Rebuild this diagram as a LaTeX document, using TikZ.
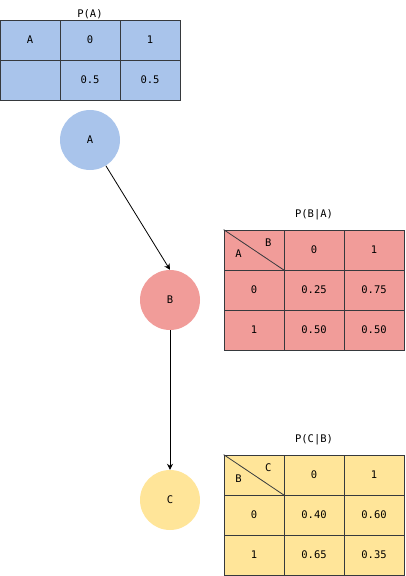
\documentclass[tikz,border=0pt]{standalone}
\usepackage{fontspec}
\setmonofont{DejaVu Sans Mono}
\usetikzlibrary{arrows.meta,positioning}
\definecolor{pablue}{HTML}{A9C4EB}
\definecolor{pbred}{HTML}{F19C99}
\definecolor{pcyellow}{HTML}{FFE599}
\definecolor{edgegray}{HTML}{36393D}
\tikzset{
  cell/.style={draw=edgegray, line width=0.8pt, minimum width=60pt, minimum height=40pt,
    inner sep=0pt, font=\ttfamily\fontsize{10.5}{12}\selectfont},
  var/.style={circle, minimum size=60pt, inner sep=0pt, font=\ttfamily\fontsize{10.5}{12}\selectfont},
  title/.style={inner sep=0pt, font=\ttfamily\fontsize{10.5}{12}\selectfont},
  corner/.style={inner sep=0pt, font=\ttfamily\fontsize{10.5}{12}\selectfont},
  link/.style={line width=0.8pt, -{Stealth[length=6pt,width=6pt]}}
}

\begin{document}
\begin{tikzpicture}[x=1pt,y=-1pt]
  \useasboundingbox (0,0) rectangle (405,576);

  % P(A)
  \node[title] (pa) at (90,14) {P(A)};
  \foreach \r/\c/\txt in {0/0/A,0/1/0,0/2/1,1/0/,1/1/0.5,1/2/0.5}
    \node[cell, fill=pablue] (pa-\r\c) at (30+60*\c,40+40*\r) {\txt};

  % P(B|A)
  \node[title] (pba) at (314,215) {P(B|A)};
  \foreach \r/\c/\txt in {0/0/,0/1/0,0/2/1,1/0/0,1/1/0.25,1/2/0.75,2/0/1,2/1/0.50,2/2/0.50}
    \node[cell, fill=pbred] (pba-\r\c) at (254+60*\c,250+40*\r) {\txt};
  \draw[edgegray, line width=0.8pt] (pba-00.north west) -- (pba-00.south east);
  \node[corner] (pba-b) at ([xshift=-16pt,yshift=-13pt]pba-00.north east) {B};
  \node[corner] (pba-a) at ([xshift=15pt,yshift=17pt]pba-00.south west) {A};

  % P(C|B)
  \node[title] (pcb) at (314,440) {P(C|B)};
  \foreach \r/\c/\txt in {0/0/,0/1/0,0/2/1,1/0/0,1/1/0.40,1/2/0.60,2/0/1,2/1/0.65,2/2/0.35}
    \node[cell, fill=pcyellow] (pcb-\r\c) at (254+60*\c,475+40*\r) {\txt};
  \draw[edgegray, line width=0.8pt] (pcb-00.north west) -- (pcb-00.south east);
  \node[corner] (pcb-c) at ([xshift=-16pt,yshift=-13pt]pcb-00.north east) {C};
  \node[corner] (pcb-b) at ([xshift=15pt,yshift=17pt]pcb-00.south west) {B};

  % nodes
  \node[var, fill=pablue] (A) at (90,140) {A};
  \node[var, fill=pbred] (B) at (170,300) {B};
  \node[var, fill=pcyellow] (C) at (170,500) {C};

  \draw[link] (A) -- (B.north);
  \draw[link] (B) -- (C);
\end{tikzpicture}
\end{document}
